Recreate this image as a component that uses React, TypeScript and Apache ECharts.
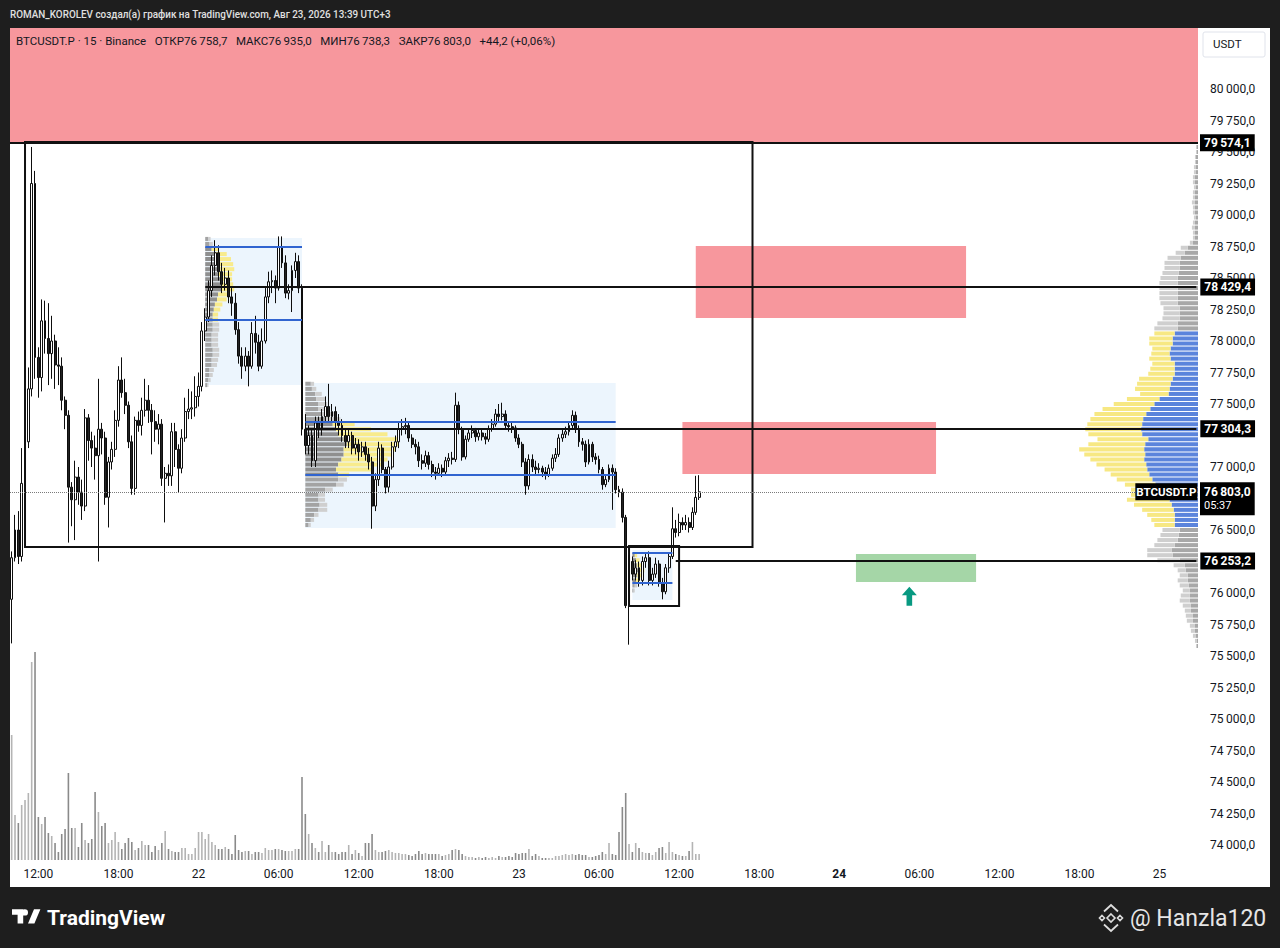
import React, { useEffect, useRef } from 'react';
import * as echarts from 'echarts';

// ---------- texts ----------
const SYMBOL = 'BTCUSDT.P';
const HEADER_CREDIT = 'ROMAN_KOROLEV создал(а) график на TradingView.com, Авг 23, 2026 13:39 UTC+3';
const INTERVAL_TEXT = '15';
const EXCHANGE = 'Binance';
const CHANGE_TEXT = '+44,2 (+0,06%)';
const COUNTDOWN = '05:37';
const WATERMARK = '@ Hanzla120';
const BRAND = 'TradingView';
const CURRENCY = 'USDT';

// ---------- time axis ----------
const START_UTC = Date.UTC(2026, 7, 21, 10, 0);
const BAR_MINUTES = 15;
const CATEGORY_COUNT = 356;
const BOLD_DAY = '24';

// ---------- price axis ----------
const PRICE_MIN = 73750;
const PRICE_MAX = 80500;
const PRICE_STEP = 250;
const LABEL_MIN = 74000;
const LABEL_MAX = 80000;
const TAG_CLEARANCE = 60;

// ---------- candles [open, close, low, high] (15m) ----------
const CANDLES: number[][] = [
  [75950, 76280, 75600, 76330], [76280, 76500, 76250, 76620], [76500, 76290, 76230, 76650], [76290, 76870, 76250, 77150],
  [76870, 77200, 76850, 77250], [77200, 77620, 77150, 77790], [77620, 79250, 77560, 79540], [79250, 77870, 77700, 79350],
  [77870, 77710, 77550, 77950], [77710, 78160, 77600, 78330], [78160, 78020, 77900, 78320], [78020, 77900, 77650, 78300],
  [77900, 78000, 77700, 78200], [78000, 77810, 77620, 78050], [77810, 77800, 77650, 77950], [77800, 77530, 77450, 77870],
  [77530, 77410, 77300, 77560], [77410, 76840, 76400, 77450], [76840, 76740, 76530, 76880], [76740, 76920, 76420, 77050],
  [76920, 76800, 76700, 77000], [76800, 76690, 76580, 76900], [76690, 77390, 76650, 77460], [77390, 77210, 77050, 77420],
  [77210, 77150, 77000, 77280], [77150, 77090, 76900, 77250], [77090, 77300, 76250, 77700], [77300, 77230, 77100, 77350],
  [77230, 76760, 76700, 77280], [76760, 77040, 76520, 77080], [77040, 77140, 76980, 77200], [77140, 77370, 77080, 77450],
  [77370, 77690, 77320, 77800], [77690, 77590, 77550, 77870], [77590, 77490, 77420, 77700], [77490, 77200, 77150, 77520],
  [77200, 76830, 76780, 77250], [76830, 77370, 76780, 77400], [77370, 77330, 77280, 77440], [77330, 77450, 77250, 77550],
  [77450, 77530, 77400, 77700], [77530, 77450, 77350, 77650], [77450, 77360, 77100, 77500], [77360, 77300, 77200, 77450],
  [77300, 77340, 77180, 77420], [77340, 76910, 76850, 77380], [76910, 76950, 76560, 77000], [76950, 76930, 76850, 77020],
  [76930, 77280, 76850, 77350], [77280, 77140, 77000, 77350], [77140, 76990, 76800, 77180], [76990, 77230, 76950, 77300],
  [77230, 77440, 77200, 77550], [77440, 77460, 77380, 77620], [77460, 77470, 77380, 77600], [77470, 77560, 77400, 77720],
  [77560, 77640, 77480, 77750], [77640, 78080, 77600, 78150], [78080, 78190, 78000, 78260], [78190, 78400, 78150, 78480],
  [78400, 78600, 78350, 78680], [78600, 78700, 78520, 78800], [78700, 78550, 78480, 78760], [78550, 78450, 78380, 78620],
  [78450, 78500, 78400, 78580], [78500, 78350, 78300, 78560], [78350, 78300, 78200, 78420], [78300, 78090, 78050, 78380],
  [78090, 77880, 77820, 78150], [77880, 77800, 77700, 77950], [77800, 77880, 77760, 77950], [77880, 77800, 77640, 77920],
  [77800, 78060, 77780, 78150], [78060, 77990, 77900, 78200], [77990, 77800, 77760, 78050], [77800, 78000, 77780, 78100],
  [78000, 78350, 77980, 78420], [78350, 78470, 78300, 78550], [78470, 78480, 78380, 78560], [78480, 78420, 78300, 78520],
  [78420, 78750, 78400, 78830], [78750, 78620, 78580, 78830], [78620, 78380, 78340, 78680], [78380, 78400, 78330, 78450],
  [78400, 78560, 78230, 78600], [78560, 78630, 78500, 78700], [78630, 78420, 78380, 78680], [78420, 77300, 77250, 78450],
  [77300, 77170, 77100, 77420], [77170, 77250, 77100, 77330], [77250, 77050, 77000, 77300], [77050, 77350, 77000, 77400],
  [77350, 77300, 77230, 77400], [77300, 77400, 77250, 77460], [77400, 77480, 77350, 77560], [77480, 77400, 77350, 77660],
  [77400, 77440, 77350, 77500], [77440, 77360, 77300, 77480], [77360, 77330, 77250, 77420], [77330, 77250, 77200, 77380],
  [77250, 77200, 77150, 77300], [77200, 77250, 77150, 77300], [77250, 77150, 77100, 77280], [77150, 77180, 77100, 77230],
  [77180, 77120, 77050, 77220], [77120, 77160, 77080, 77200], [77160, 77100, 77050, 77200], [77100, 77040, 76980, 77150],
  [77040, 76690, 76510, 77080], [76690, 76900, 76650, 76950], [76900, 77150, 76850, 77200], [77150, 76980, 76950, 77180],
  [76980, 76840, 76790, 77000], [76840, 77000, 76800, 77050], [77000, 77160, 76980, 77200], [77160, 77200, 77120, 77250],
  [77200, 77300, 77150, 77350], [77300, 77320, 77250, 77380], [77320, 77330, 77260, 77390], [77330, 77230, 77200, 77360],
  [77230, 77180, 77150, 77260], [77180, 77160, 77100, 77220], [77160, 77050, 77000, 77200], [77050, 77030, 76980, 77100],
  [77030, 77090, 77000, 77130], [77090, 77020, 76980, 77120], [77020, 76960, 76920, 77050], [76960, 76950, 76900, 77000],
  [76950, 76990, 76930, 77030], [76990, 76960, 76920, 77020], [76960, 77050, 76940, 77080], [77050, 77070, 77000, 77110],
  [77070, 77060, 77020, 77120], [77060, 77490, 77040, 77590], [77490, 77300, 77260, 77520], [77300, 77080, 77050, 77320],
  [77080, 77220, 77060, 77250], [77220, 77270, 77200, 77300], [77270, 77290, 77230, 77330], [77290, 77240, 77200, 77310],
  [77240, 77270, 77210, 77300], [77270, 77240, 77210, 77300], [77240, 77220, 77180, 77270], [77220, 77300, 77200, 77330],
  [77300, 77340, 77280, 77380], [77340, 77420, 77320, 77460], [77420, 77400, 77360, 77500], [77400, 77420, 77370, 77510],
  [77420, 77330, 77300, 77450], [77330, 77320, 77280, 77360], [77320, 77310, 77270, 77350], [77310, 77230, 77200, 77330],
  [77230, 77180, 77150, 77260], [77180, 77040, 77000, 77200], [77040, 76850, 76780, 77070], [76850, 77060, 76820, 77100],
  [77060, 77000, 76960, 77100], [77000, 76980, 76940, 77050], [76980, 76990, 76950, 77030], [76990, 76960, 76920, 77010],
  [76960, 76940, 76900, 77000], [76940, 76990, 76920, 77020], [76990, 77070, 76970, 77100], [77070, 77100, 77040, 77150],
  [77100, 77230, 77080, 77260], [77230, 77260, 77200, 77300], [77260, 77280, 77230, 77320], [77280, 77330, 77250, 77360],
  [77330, 77410, 77300, 77450], [77410, 77300, 77270, 77440], [77300, 77200, 77160, 77330], [77200, 77180, 77130, 77230],
  [77180, 77040, 77000, 77210], [77040, 77180, 77020, 77220], [77180, 77080, 77040, 77200], [77080, 77060, 77020, 77110],
  [77060, 76980, 76950, 77090], [76980, 76860, 76820, 77000], [76860, 76900, 76840, 76940], [76900, 76990, 76880, 77020],
  [76990, 76960, 76660, 77020], [76960, 76820, 76790, 76990], [76820, 76800, 76760, 76850], [76800, 76600, 76560, 76830],
  [76600, 75900, 75880, 76620], [75900, 76250, 75590, 76300], [76250, 76150, 76100, 76290], [76150, 76200, 76100, 76260],
  [76200, 76100, 76050, 76250], [76100, 76250, 76060, 76290], [76250, 76280, 76200, 76320], [76280, 76100, 76060, 76330],
  [76100, 76150, 76060, 76200], [76150, 76230, 76120, 76280], [76230, 76080, 76050, 76260], [76080, 76010, 75950, 76120],
  [76010, 76200, 75990, 76230], [76200, 76290, 76160, 76320], [76290, 76510, 76270, 76680], [76510, 76480, 76440, 76580],
  [76480, 76560, 76450, 76630], [76560, 76540, 76500, 76600], [76540, 76560, 76500, 76620], [76560, 76520, 76480, 76600],
  [76520, 76640, 76500, 76680], [76640, 76758.7, 76620, 76930], [76758.7, 76803.0, 76738.3, 76935.0],
];

const VOLUMES: number[] = [
  17500, 6300, 5180, 7700, 8400, 9380, 27720, 29120, 6020, 5040, 6020, 3780, 3360, 2380, 1120, 3640, 4340, 12180, 4480, 4480,
  1820, 5180, 2800, 2380, 2940, 9520, 6720, 4760, 5180, 2380, 2800, 3920, 2520, 1540, 2380, 3080, 2520, 1400, 1680, 2660,
  2100, 2100, 1120, 1960, 1400, 2380, 4060, 1540, 1260, 1120, 1120, 1680, 1680, 840, 840, 1680, 3920, 3920, 2940, 3640,
  2520, 2100, 1540, 1540, 1820, 1540, 840, 3500, 1400, 1120, 1260, 1260, 840, 1120, 1120, 980, 1680, 1400, 1400, 1540,
  1540, 1400, 1260, 1260, 1260, 1540, 1540, 11620, 6440, 3640, 2380, 1680, 1120, 2660, 1120, 2100, 1120, 1120, 840, 1120,
  1120, 2100, 840, 1400, 980, 560, 2380, 2380, 3640, 1400, 1120, 1120, 1260, 1400, 1120, 980, 980, 840, 840, 700,
  560, 840, 1260, 840, 980, 840, 840, 840, 840, 560, 700, 840, 1400, 1540, 1400, 840, 560, 420, 420, 280,
  420, 280, 420, 280, 420, 280, 560, 420, 420, 560, 420, 980, 840, 980, 980, 1540, 560, 840, 560, 280,
  280, 280, 280, 560, 560, 700, 840, 700, 840, 700, 840, 700, 700, 420, 420, 560, 700, 1120, 840, 2380,
  840, 700, 3920, 7420, 9380, 2240, 1120, 2380, 1680, 1120, 980, 980, 700, 1120, 1680, 1820, 980, 2520, 1120, 840,
  700, 560, 560, 1260, 2520, 840, 836,
];
const VOLUME_AXIS_MAX = 30800;

// ---------- drawings (time index, price) ----------
const LEVELS = [
  { price: 79574.1, from: -1 },
  { price: 78429.4, from: 58 },
  { price: 77304.3, from: 88 },
  { price: 76253.2, from: 199 },
];
const LAST_INDEX = 355;

const ZONES = [
  { kind: 'red', x1: 0, x2: 355, p1: 79574.1, p2: PRICE_MAX, full: 1 },
  { kind: 'session', x1: 58, x2: 87, p1: 78817, p2: 77650, full: 0 },
  { kind: 'session', x1: 88, x2: 181, p1: 77666, p2: 76515, full: 0 },
  { kind: 'session', x1: 186, x2: 198, p1: 76341, p2: 75944, full: 0 },
  { kind: 'red', x1: 205, x2: 286, p1: 78753, p2: 78182, full: 0 },
  { kind: 'red', x1: 201, x2: 277, p1: 77357, p2: 76944, full: 0 },
  { kind: 'green', x1: 253, x2: 289, p1: 76309, p2: 76087, full: 0 },
];
const OUTLINES = [
  { x1: 4, x2: 222, p1: 79579, p2: 76365 },
  { x1: 185, x2: 200, p1: 76373, p2: 75896 },
];
const ARROW_POINT = { x: 269, price: 75975 };

// ---------- session volume profiles ----------
const PROFILE_ROW = 40;
const SESSION_1_DARK = [2, 3, 4, 4, 6, 6, 7, 7, 6, 6, 6, 7, 7, 7, 7, 8, 9, 11, 12, 15, 15, 14, 12, 14, 12, 10, 10, 6, 4, 3];
const SESSION_1_LIGHT = [1, 2, 3, 4, 5, 6, 6, 6, 6, 6, 6, 6, 6, 5, 5, 6, 7, 9, 10, 12, 11, 11, 13, 13, 14, 14, 10, 6, 3, 2];
const SESSION_2_DARK = [3, 5, 8, 12, 13, 12, 12, 18, 28, 30, 30, 28, 30, 33, 35, 35, 38, 35, 30, 28, 25, 18, 15, 12, 12, 10, 9, 6, 5];
const SESSION_2_LIGHT = [2, 3, 4, 8, 7, 6, 6, 7, 7, 8, 10, 34, 40, 42, 45, 47, 47, 50, 45, 32, 20, 14, 13, 10, 8, 8, 6, 4, 3];
const SESSION_3_DARK = [1, 2, 3, 4, 5, 4, 3, 2];
const SESSION_3_LIGHT = [1, 2, 3, 5, 5, 4, 3, 2];
const SESSIONS = [
  { from: 58, to: 87, rowStart: 77650, vah: 78746, val: 78166, dark: SESSION_1_DARK, light: SESSION_1_LIGHT },
  { from: 88, to: 181, rowStart: 76540, vah: 77357, val: 76936, dark: SESSION_2_DARK, light: SESSION_2_LIGHT },
  { from: 186, to: 198, rowStart: 76020, vah: 76317, val: 76079, dark: SESSION_3_DARK, light: SESSION_3_LIGHT },
];

// ---------- visible range volume profile ----------
const VRVP_ROW_START = 75580;
const VRVP_VA_LOW = 76520;
const VRVP_VA_HIGH = 78080;
const VRVP_UP = [
  1, 1, 2, 3, 3, 5, 5, 7, 7, 8, 8, 8, 9, 10, 10, 12, 13, 18, 25, 26,
  23, 20, 19, 18, 23, 23, 23, 24, 26, 28, 30, 36, 42, 45, 48, 50, 51, 53, 52, 53,
  52, 49, 55, 56, 55, 54, 51, 47, 43, 38, 29, 28, 27, 25, 23, 23, 23, 27, 28, 27,
  25, 25, 23, 20, 20, 18, 18, 18, 20, 20, 20, 20, 20, 20, 19, 18, 18, 17, 13, 10,
  5, 3, 3, 3, 3, 2, 3, 3, 3, 3, 3, 2, 3, 3, 2, 2, 2, 2, 1, 1,
];
const VRVP_DOWN = [
  1, 2, 3, 4, 5, 6, 7, 6, 8, 10, 9, 7, 9, 10, 8, 8, 11, 22, 25, 24,
  20, 20, 18, 17, 20, 23, 27, 31, 37, 42, 36, 30, 30, 35, 38, 42, 49, 53, 60, 64,
  56, 50, 53, 55, 54, 52, 51, 47, 40, 32, 28, 34, 33, 33, 26, 24, 22, 21, 18, 18,
  23, 23, 20, 23, 20, 17, 16, 16, 17, 18, 18, 18, 18, 17, 16, 15, 15, 13, 9, 7,
  3, 2, 2, 3, 2, 2, 2, 2, 3, 2, 2, 2, 2, 2, 2, 2, 1, 1, 1, 1,
];

// ---------- helpers ----------
const FONT = 'Roboto, "Noto Sans", sans-serif';
const fmtPrice = (v: number) => {
  const [i, d] = v.toFixed(1).split('.');
  return i.replace(/\B(?=(\d{3})+(?!\d))/g, '\u2009') + ',' + d;
};
const pad = (n: number) => String(n).padStart(2, '0');
const CATEGORIES: string[] = [];
for (let k = 0; k < CATEGORY_COUNT; k++) {
  const d = new Date(START_UTC + k * BAR_MINUTES * 60000);
  CATEGORIES.push(`${d.getUTCFullYear()}-${pad(d.getUTCMonth() + 1)}-${pad(d.getUTCDate())} ${pad(d.getUTCHours())}:${pad(d.getUTCMinutes())}`);
}

const ZONE_FILL: Record<string, string> = { red: '#f7979d', green: '#a5d6a7', session: '#ecf5fd' };

const tagLabel = (text: string, distance: number) => ({
  show: true, position: 'end', formatter: text, distance,
  color: '#ffffff', backgroundColor: '#000000', padding: [3, 4, 2, 4],
  fontSize: 12, fontWeight: 'bold', fontFamily: FONT,
});

const TV_LOGO = 'M14 22H7V11H0V4h14v18zM28 22h-8l7.5-18h8L28 22zM20 8a4 4 0 1 1 -8 0a4 4 0 1 1 8 0z';
let logoRegistered = false;

export default function App() {
  const ref = useRef<HTMLDivElement>(null);

  useEffect(() => {
    if (!ref.current) return;
    if (!logoRegistered) {
      echarts.graphic.registerShape('tvlogo', echarts.graphic.extendPath(TV_LOGO, {}));
      logoRegistered = true;
    }
    const chart = echarts.init(ref.current, null, { renderer: 'svg' });

    const last = CANDLES[CANDLES.length - 1];
    const lastClose = last[1];
    const headerQuote = `${SYMBOL} · ${INTERVAL_TEXT} · ${EXCHANGE}   ОТКР${fmtPrice(last[0])}   МАКС${fmtPrice(last[3])}   МИН${fmtPrice(last[2])}   ЗАКР${fmtPrice(last[1])}   ${CHANGE_TEXT}`;
    const tagPrices = [...LEVELS.map((l) => l.price), lastClose];

    const zoneData = ZONES.map((z) => [z.x1, z.p1, z.x2, z.p2, z.full]);
    const outlineData = OUTLINES.map((o) => [o.x1, o.p1, o.x2, o.p2]);

    const sessionData: number[][] = [];
    SESSIONS.forEach((s) => {
      const totals = s.dark.map((d, i) => d + s.light[i]);
      const maxT = Math.max(...totals);
      s.dark.forEach((d, i) => {
        const price = s.rowStart + i * PROFILE_ROW;
        const inVA = price >= s.val && price <= s.vah ? 1 : 0;
        sessionData.push([s.from, price, d, s.light[i], s.to, maxT, inVA]);
      });
    });

    const vrvpMax = Math.max(...VRVP_UP.map((u, i) => u + VRVP_DOWN[i]));
    const vrvpData = VRVP_UP.map((u, i) => {
      const price = VRVP_ROW_START + i * PROFILE_ROW;
      return [0, price, u, VRVP_DOWN[i], vrvpMax, price >= VRVP_VA_LOW && price <= VRVP_VA_HIGH ? 1 : 0];
    });

    const volumeData = VOLUMES.map((v, i) => ({
      value: v,
      itemStyle: { color: CANDLES[i][1] >= CANDLES[i][0] ? '#b4b4b4' : '#8a8a8a' },
    }));

    const levelLines: any[] = LEVELS.map((l) => {
      const style = { color: '#111111', width: 2, type: 'solid' };
      if (l.from < 0) return { yAxis: l.price, lineStyle: style, label: tagLabel(fmtPrice(l.price), 2) };
      return [
        { coord: [l.from, l.price], lineStyle: style, label: tagLabel(fmtPrice(l.price), 4) },
        { coord: [LAST_INDEX, l.price] },
      ];
    });
    const sessionLines: any[] = [];
    SESSIONS.forEach((s) => {
      [s.vah, s.val].forEach((p) => {
        sessionLines.push([
          { coord: [s.from, p], lineStyle: { color: '#3064d0', width: 2, type: 'solid' }, label: { show: false } },
          { coord: [s.to, p] },
        ]);
      });
    });
    const lastPriceLine = {
      yAxis: lastClose,
      lineStyle: { color: '#7a7a7a', width: 1, type: 'dotted' },
      label: {
        show: true, position: 'end', distance: 2,
        formatter: `{a|${fmtPrice(lastClose)}}\n{b|${COUNTDOWN}}`,
        backgroundColor: '#000000', padding: [3, 4, 3, 4], offset: [0, 7],
        rich: {
          a: { color: '#ffffff', fontSize: 12, fontWeight: 'bold', fontFamily: FONT, lineHeight: 14 },
          b: { color: '#ffffff', fontSize: 11, fontFamily: FONT, lineHeight: 13 },
        },
      },
    };

    const option: any = {
      animation: false,
      backgroundColor: '#ffffff',
      grid: [
        { left: 10, right: 82, top: 26, bottom: 71.5 },
        { left: 10, right: 82, top: 640, bottom: 88 },
      ],
      xAxis: [
        { type: 'category', gridIndex: 0, data: CATEGORIES, show: false, boundaryGap: true },
        {
          type: 'category', gridIndex: 1, data: CATEGORIES, boundaryGap: true,
          axisLine: { show: false }, axisTick: { show: false }, splitLine: { show: false },
          axisLabel: {
            margin: 8, color: '#131722', fontSize: 12, fontFamily: FONT,
            interval: (_i: number, v: string) => v.slice(14, 16) === '00' && Number(v.slice(11, 13)) % 6 === 0,
            formatter: (v: string) => {
              if (v.slice(11, 13) === '00') {
                const day = String(Number(v.slice(8, 10)));
                return day === BOLD_DAY ? `{b|${day}}` : day;
              }
              return v.slice(11, 16);
            },
            rich: { b: { fontWeight: 'bold', fontSize: 12, color: '#131722', fontFamily: FONT } },
          },
        },
      ],
      yAxis: [
        {
          type: 'value', gridIndex: 0, position: 'right', min: PRICE_MIN, max: PRICE_MAX, interval: PRICE_STEP,
          axisLine: { show: false }, axisTick: { show: false }, splitLine: { show: false },
          axisLabel: {
            margin: 12, color: '#131722', fontSize: 12, fontFamily: FONT,
            formatter: (v: number) => {
              if (v < LABEL_MIN || v > LABEL_MAX) return '';
              if (tagPrices.some((p) => Math.abs(p - v) < TAG_CLEARANCE)) return '';
              return fmtPrice(v);
            },
          },
        },
        { type: 'value', gridIndex: 1, min: 0, max: VOLUME_AXIS_MAX, show: false },
      ],
      series: [
        {
          type: 'custom', name: 'zones', xAxisIndex: 0, yAxisIndex: 0, z: 1, silent: true,
          encode: { x: 0, y: 1 }, data: zoneData,
          renderItem: (params: any, api: any) => {
            const zone = ZONES[params.dataIndex];
            const cs = params.coordSys;
            const a = api.coord([api.value(0), api.value(1)]);
            const b = api.coord([api.value(2), api.value(3)]);
            let left = Math.min(a[0], b[0]);
            let right = Math.max(a[0], b[0]);
            if (api.value(4)) { left = cs.x; right = cs.x + cs.width; }
            const top = Math.min(a[1], b[1]);
            const bottom = Math.max(a[1], b[1]);
            return { type: 'rect', shape: { x: left, y: top, width: right - left, height: bottom - top }, style: { fill: ZONE_FILL[zone.kind] } };
          },
        },
        {
          type: 'custom', name: 'session profiles', xAxisIndex: 0, yAxisIndex: 0, z: 2, silent: true,
          encode: { x: 0, y: 1 }, data: sessionData,
          renderItem: (_p: any, api: any) => {
            const price = api.value(1);
            const a = api.coord([api.value(0), price]);
            const e = api.coord([api.value(4), price]);
            const unit = ((e[0] - a[0]) * 0.3) / api.value(5);
            const yT = api.coord([api.value(0), price + 16])[1];
            const yB = api.coord([api.value(0), price - 16])[1];
            const inVA = api.value(6);
            const dw = api.value(2) * unit;
            const lw = api.value(3) * unit;
            return {
              type: 'group',
              children: [
                { type: 'rect', shape: { x: a[0], y: yT, width: dw, height: yB - yT }, style: { fill: inVA ? '#8f8f8f' : '#a3a3a3' } },
                { type: 'rect', shape: { x: a[0] + dw, y: yT, width: lw, height: yB - yT }, style: { fill: inVA ? '#f8eb8c' : '#cfcfcf' } },
              ],
            };
          },
        },
        {
          type: 'custom', name: 'visible range profile', xAxisIndex: 0, yAxisIndex: 0, z: 2, silent: true,
          encode: { x: 0, y: 1 }, data: vrvpData,
          renderItem: (params: any, api: any) => {
            const cs = params.coordSys;
            const price = api.value(1);
            const xr = cs.x + cs.width;
            const unit = (cs.width * 0.1) / api.value(4);
            const yT = api.coord([0, price + 16])[1];
            const yB = api.coord([0, price - 16])[1];
            const inVA = api.value(5);
            const uw = api.value(2) * unit;
            const dw = api.value(3) * unit;
            return {
              type: 'group',
              children: [
                { type: 'rect', shape: { x: xr - uw, y: yT, width: uw, height: yB - yT }, style: { fill: inVA ? '#5b84dc' : '#a8a8a8' } },
                { type: 'rect', shape: { x: xr - uw - dw, y: yT, width: dw, height: yB - yT }, style: { fill: inVA ? '#f7e883' : '#cfcfcf' } },
              ],
            };
          },
        },
        {
          type: 'candlestick', name: SYMBOL, xAxisIndex: 0, yAxisIndex: 0, z: 3, data: CANDLES, barWidth: 2.4,
          itemStyle: { color: '#ffffff', color0: '#222222', borderColor: '#0d0d0d', borderColor0: '#0d0d0d', borderWidth: 1 },
          markLine: {
            silent: true, symbol: ['none', 'none'], animation: false,
            data: [...sessionLines, ...levelLines, lastPriceLine],
          },
          markPoint: {
            silent: true, animation: false,
            data: [
              {
                coord: [LAST_INDEX, lastClose], symbol: 'rect', symbolSize: [62, 17], symbolOffset: [-30, 0],
                itemStyle: { color: '#000000' },
                label: { show: true, position: 'inside', formatter: SYMBOL, color: '#ffffff', fontSize: 11.5, fontWeight: 'bold', fontFamily: FONT },
              },
              {
                coord: [ARROW_POINT.x, ARROW_POINT.price], symbol: 'path://M8,0 L16,9 L11,9 L11,20 L5,20 L5,9 L0,9 Z',
                symbolSize: [15, 19], itemStyle: { color: '#089981' }, label: { show: false },
              },
            ],
          },
        },
        {
          type: 'custom', name: 'boxes', xAxisIndex: 0, yAxisIndex: 0, z: 4, silent: true,
          encode: { x: 0, y: 1 }, data: outlineData,
          renderItem: (_p: any, api: any) => {
            const a = api.coord([api.value(0), api.value(1)]);
            const b = api.coord([api.value(2), api.value(3)]);
            return {
              type: 'rect',
              shape: { x: Math.min(a[0], b[0]), y: Math.min(a[1], b[1]), width: Math.abs(b[0] - a[0]), height: Math.abs(b[1] - a[1]) },
              style: { fill: 'none', stroke: '#111111', lineWidth: 2 },
            };
          },
        },
        {
          type: 'bar', name: 'Volume', xAxisIndex: 1, yAxisIndex: 1, z: 2, data: volumeData, barWidth: 1.6, silent: true,
          markLine: {
            silent: true, symbol: ['none', 'none'], animation: false,
            data: [{
              yAxis: VOLUMES[VOLUMES.length - 1], lineStyle: { opacity: 0 },
              label: {
                show: true, position: 'end', distance: 4, formatter: String(VOLUMES[VOLUMES.length - 1]),
                color: '#ffffff', backgroundColor: '#4a4a4a', padding: [3, 4, 2, 4], fontSize: 11, fontFamily: FONT,
              },
            }],
          },
        },
      ],
      graphic: [
        { type: 'rect', z: 100, shape: { x: 0, y: 0, width: 1280, height: 28 }, style: { fill: '#1e1e1e' } },
        { type: 'rect', z: 100, shape: { x: 0, y: 887, width: 1280, height: 61 }, style: { fill: '#1e1e1e' } },
        { type: 'rect', z: 100, shape: { x: 0, y: 0, width: 10, height: 948 }, style: { fill: '#1e1e1e' } },
        { type: 'rect', z: 100, shape: { x: 1270, y: 0, width: 10, height: 948 }, style: { fill: '#1e1e1e' } },
        {
          type: 'text', z: 101, x: 10, y: 14, scaleX: 0.86,
          style: { text: HEADER_CREDIT, fill: '#e0e0e0', fontSize: 11.5, fontWeight: 500, fontFamily: FONT, verticalAlign: 'middle' },
        },
        {
          type: 'text', z: 101, x: 16, y: 41,
          style: { text: headerQuote, fill: '#131722', fontSize: 11.5, fontFamily: FONT, verticalAlign: 'middle' },
        },
        { type: 'rect', z: 101, shape: { x: 1203, y: 32, width: 62, height: 25, r: 2 }, style: { fill: '#ffffff', stroke: '#e0e3eb', lineWidth: 1 } },
        {
          type: 'text', z: 102, x: 1213, y: 44,
          style: { text: CURRENCY, fill: '#131722', fontSize: 11.5, fontFamily: FONT, verticalAlign: 'middle' },
        },
        { type: 'tvlogo', z: 101, x: 12, y: 906, scaleX: 0.8, scaleY: 0.8, style: { fill: '#ffffff' } },
        {
          type: 'text', z: 101, x: 47, y: 918,
          style: { text: BRAND, fill: '#ffffff', fontSize: 21, fontWeight: 'bold', fontFamily: FONT, verticalAlign: 'middle' },
        },
        { type: 'polygon', z: 101, shape: { points: [[1111, 914], [1115, 918], [1111, 922], [1107, 918]] }, style: { fill: 'none', stroke: '#dddddd', lineWidth: 1.6 } },
        { type: 'polygon', z: 101, shape: { points: [[1102, 915.5], [1104.5, 918], [1102, 920.5], [1099.5, 918]] }, style: { fill: 'none', stroke: '#dddddd', lineWidth: 1.6 } },
        { type: 'polygon', z: 101, shape: { points: [[1120, 915.5], [1122.5, 918], [1120, 920.5], [1117.5, 918]] }, style: { fill: 'none', stroke: '#dddddd', lineWidth: 1.6 } },
        { type: 'polyline', z: 101, shape: { points: [[1104, 911.5], [1111, 905], [1118, 911.5]] }, style: { stroke: '#dddddd', lineWidth: 1.8 } },
        { type: 'polyline', z: 101, shape: { points: [[1104, 924.5], [1111, 931], [1118, 924.5]] }, style: { stroke: '#dddddd', lineWidth: 1.8 } },
        {
          type: 'text', z: 101, x: 1130, y: 918,
          style: { text: WATERMARK, fill: '#e6e6e6', fontSize: 23, fontFamily: FONT, verticalAlign: 'middle' },
        },
      ],
    };

    chart.setOption(option);
    return () => chart.dispose();
  }, []);

  return <div ref={ref} style={{ position: 'fixed', left: 0, top: 0, width: 1280, height: 948 }} />;
}
